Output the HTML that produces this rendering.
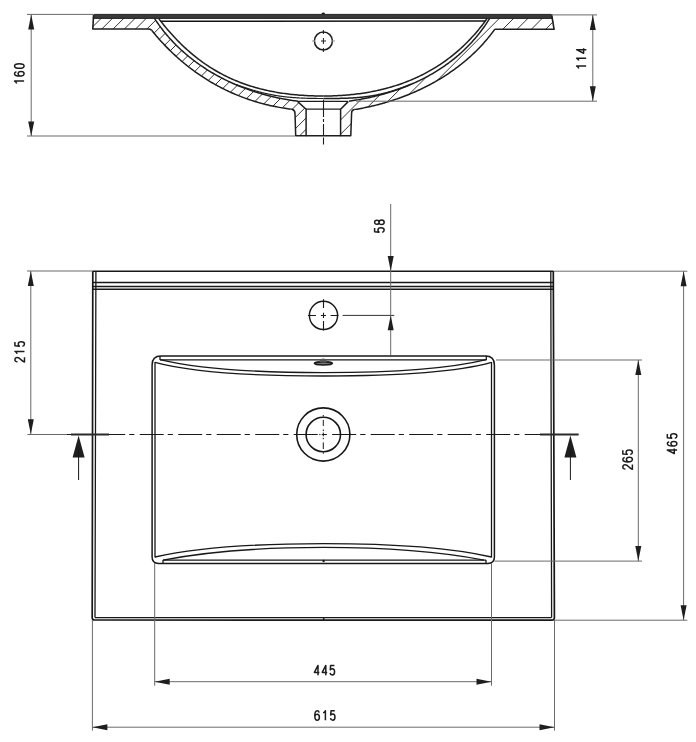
<!DOCTYPE html>
<html><head><meta charset="utf-8"><style>
html,body{margin:0;padding:0;background:#fff;width:696px;height:742px;overflow:hidden}
svg{display:block}
.g path{fill:none;stroke:#1c1c1c;stroke-width:1.5;stroke-linecap:butt;stroke-linejoin:round}
</style></head><body>
<svg width="696" height="742" viewBox="0 0 696 742">
<clipPath id="cl"><path d="M93.30,18.30 L154.50,18.30 L154.50,18.40 L155.30,19.62 L156.10,20.83 L156.92,22.04 L157.75,23.23 L158.58,24.42 L159.43,25.60 L160.29,26.76 L161.15,27.92 L162.03,29.07 L162.92,30.21 L163.81,31.35 L164.72,32.47 L165.63,33.58 L166.56,34.69 L167.49,35.78 L168.43,36.87 L169.38,37.95 L170.34,39.02 L171.31,40.08 L172.29,41.13 L173.28,42.17 L174.27,43.20 L175.28,44.23 L176.29,45.24 L177.31,46.25 L178.34,47.25 L179.38,48.23 L180.42,49.21 L181.48,50.18 L182.54,51.14 L183.61,52.10 L184.69,53.04 L185.77,53.97 L186.86,54.90 L187.96,55.82 L189.07,56.72 L190.18,57.62 L191.31,58.51 L192.43,59.39 L193.57,60.27 L194.71,61.13 L195.86,61.98 L197.02,62.83 L198.18,63.67 L199.35,64.49 L200.53,65.31 L201.71,66.12 L202.90,66.92 L204.10,67.71 L205.30,68.50 L206.50,69.27 L207.72,70.04 L208.94,70.79 L210.16,71.54 L211.39,72.28 L212.63,73.01 L213.87,73.73 L215.12,74.44 L216.37,75.14 L217.63,75.84 L218.89,76.52 L220.16,77.20 L221.43,77.87 L222.71,78.53 L224.00,79.18 L225.28,79.82 L226.58,80.45 L227.87,81.07 L229.17,81.69 L230.48,82.29 L231.79,82.89 L233.11,83.48 L234.42,84.06 L235.75,84.63 L237.07,85.19 L238.40,85.74 L239.74,86.29 L241.08,86.82 L242.42,87.35 L243.76,87.86 L245.11,88.37 L246.46,88.87 L247.82,89.36 L249.17,89.85 L250.54,90.32 L251.90,90.78 L253.27,91.24 L254.64,91.69 L256.01,92.13 L257.38,92.56 L258.76,92.98 L260.14,93.39 L261.52,93.79 L262.91,94.19 L264.29,94.57 L265.68,94.95 L267.07,95.32 L268.47,95.67 L269.86,96.03 L271.26,96.37 L272.66,96.70 L274.06,97.02 L275.46,97.34 L276.86,97.65 L278.26,97.94 L279.67,98.23 L281.07,98.51 L282.48,98.79 L283.89,99.05 L285.30,99.30 L286.71,99.55 L288.12,99.79 L289.53,100.01 L290.94,100.23 L292.35,100.44 L293.76,100.65 L295.18,100.84 L296.59,101.02 L298.00,101.20 L306.00,109.60 L306.00,135.70 L295.70,135.70 L295.00,113.00 L292.00,109.30 L292.00,109.30 L290.57,109.12 L289.15,108.94 L287.73,108.74 L286.32,108.54 L284.91,108.32 L283.50,108.10 L282.10,107.87 L280.70,107.63 L279.30,107.38 L277.91,107.13 L276.52,106.86 L275.13,106.59 L273.75,106.30 L272.37,106.01 L270.99,105.71 L269.62,105.40 L268.26,105.08 L266.89,104.75 L265.53,104.42 L264.18,104.07 L262.82,103.72 L261.48,103.36 L260.13,102.99 L258.79,102.61 L257.45,102.22 L256.12,101.82 L254.79,101.42 L253.47,101.01 L252.15,100.59 L250.83,100.16 L249.52,99.72 L248.21,99.27 L246.90,98.81 L245.60,98.35 L244.31,97.88 L243.01,97.40 L241.73,96.91 L240.44,96.41 L239.16,95.91 L237.88,95.39 L236.61,94.87 L235.34,94.34 L234.08,93.80 L232.82,93.26 L231.57,92.70 L230.32,92.14 L229.07,91.57 L227.83,90.99 L226.59,90.40 L225.35,89.81 L224.12,89.20 L222.90,88.59 L221.68,87.97 L220.46,87.34 L219.25,86.71 L218.04,86.06 L216.84,85.41 L215.64,84.75 L214.45,84.09 L213.26,83.41 L212.07,82.73 L210.89,82.04 L209.72,81.34 L208.54,80.63 L207.38,79.91 L206.21,79.19 L205.06,78.46 L203.90,77.72 L202.75,76.98 L201.61,76.22 L200.47,75.46 L199.34,74.69 L198.21,73.92 L197.08,73.13 L195.96,72.34 L194.85,71.54 L193.73,70.73 L192.63,69.92 L191.53,69.10 L190.43,68.27 L189.34,67.43 L188.25,66.58 L187.17,65.73 L186.09,64.87 L185.02,64.00 L183.95,63.13 L182.89,62.25 L181.83,61.36 L180.78,60.46 L179.73,59.56 L178.69,58.64 L177.65,57.72 L176.62,56.80 L175.59,55.86 L174.57,54.92 L173.55,53.97 L172.54,53.02 L171.53,52.06 L170.53,51.09 L169.54,50.11 L168.54,49.12 L167.56,48.13 L166.58,47.13 L165.60,46.13 L164.63,45.12 L163.67,44.10 L162.70,43.07 L161.75,42.03 L160.80,40.99 L159.86,39.95 L158.92,38.89 L157.98,37.83 L157.06,36.76 L156.13,35.68 L155.22,34.60 L154.30,33.51 L153.40,32.41 L152.50,31.31 L151.60,30.20 L149.50,29.00 L92.70,29.00Z"/></clipPath>
<path clip-path="url(#cl)" d="M108.2,0 L-51.8,160 M119.5,0 L-40.5,160 M130.8,0 L-29.2,160 M142.1,0 L-17.9,160 M153.4,0 L-6.6,160 M164.6,0 L4.6,160 M175.9,0 L15.9,160 M187.2,0 L27.2,160 M198.5,0 L38.5,160 M209.8,0 L49.8,160 M221.0,0 L61.0,160 M232.3,0 L72.3,160 M243.6,0 L83.6,160 M254.9,0 L94.9,160 M266.2,0 L106.2,160 M277.4,0 L117.4,160 M288.7,0 L128.7,160 M300.0,0 L140.0,160 M311.3,0 L151.3,160 M322.6,0 L162.6,160 M333.8,0 L173.8,160 M345.1,0 L185.1,160 M356.4,0 L196.4,160 M367.7,0 L207.7,160 M379.0,0 L219.0,160 M390.2,0 L230.2,160 M401.5,0 L241.5,160 M412.8,0 L252.8,160 M424.1,0 L264.1,160 M435.4,0 L275.4,160 M446.6,0 L286.6,160 M457.9,0 L297.9,160 M469.2,0 L309.2,160" stroke="#1e1e1e" stroke-width="0.9"/>
<clipPath id="cr"><path d="M553.00,18.30 L489.70,18.30 L489.70,18.40 L488.91,19.67 L488.11,20.92 L487.31,22.17 L486.49,23.40 L485.67,24.62 L484.83,25.83 L483.99,27.03 L483.13,28.22 L482.27,29.40 L481.40,30.57 L480.52,31.73 L479.64,32.88 L478.74,34.01 L477.83,35.14 L476.92,36.25 L476.00,37.36 L475.07,38.45 L474.13,39.54 L473.18,40.61 L472.22,41.67 L471.26,42.73 L470.29,43.77 L469.31,44.80 L468.32,45.82 L467.33,46.83 L466.32,47.84 L465.31,48.83 L464.30,49.81 L463.27,50.78 L462.24,51.74 L461.20,52.69 L460.15,53.63 L459.09,54.57 L458.03,55.49 L456.96,56.40 L455.88,57.30 L454.80,58.19 L453.71,59.07 L452.61,59.95 L451.51,60.81 L450.40,61.66 L449.28,62.51 L448.16,63.34 L447.03,64.16 L445.89,64.98 L444.75,65.78 L443.60,66.58 L442.44,67.37 L441.28,68.14 L440.11,68.91 L438.94,69.67 L437.76,70.42 L436.58,71.16 L435.38,71.89 L434.19,72.61 L432.99,73.32 L431.78,74.03 L430.56,74.72 L429.35,75.40 L428.12,76.08 L426.89,76.75 L425.66,77.40 L424.42,78.05 L423.17,78.69 L421.92,79.33 L420.67,79.95 L419.41,80.56 L418.14,81.17 L416.88,81.76 L415.60,82.35 L414.32,82.93 L413.04,83.50 L411.75,84.06 L410.46,84.61 L409.17,85.16 L407.87,85.69 L406.56,86.22 L405.25,86.74 L403.94,87.25 L402.63,87.75 L401.31,88.25 L399.98,88.73 L398.66,89.21 L397.32,89.68 L395.99,90.14 L394.65,90.60 L393.31,91.04 L391.97,91.48 L390.62,91.91 L389.27,92.33 L387.91,92.74 L386.55,93.14 L385.19,93.54 L383.83,93.93 L382.46,94.31 L381.09,94.69 L379.72,95.05 L378.35,95.41 L376.97,95.76 L375.59,96.10 L374.21,96.44 L372.83,96.77 L371.44,97.08 L370.05,97.40 L368.66,97.70 L367.27,98.00 L365.87,98.29 L364.47,98.57 L363.08,98.85 L361.67,99.11 L360.27,99.37 L358.87,99.63 L357.46,99.87 L356.06,100.11 L354.65,100.34 L353.24,100.57 L351.83,100.79 L350.41,101.00 L349.00,101.20 L340.70,109.60 L340.70,135.70 L350.80,135.70 L351.60,112.00 L354.20,109.60 L354.20,109.60 L355.58,109.38 L356.95,109.14 L358.32,108.90 L359.70,108.66 L361.07,108.40 L362.44,108.14 L363.81,107.87 L365.18,107.59 L366.55,107.31 L367.92,107.02 L369.29,106.72 L370.65,106.41 L372.02,106.10 L373.38,105.77 L374.74,105.44 L376.10,105.11 L377.46,104.76 L378.82,104.41 L380.17,104.05 L381.53,103.68 L382.88,103.30 L384.23,102.92 L385.57,102.53 L386.92,102.13 L388.26,101.73 L389.60,101.31 L390.94,100.89 L392.28,100.46 L393.61,100.03 L394.94,99.58 L396.27,99.13 L397.60,98.67 L398.92,98.21 L400.24,97.73 L401.56,97.25 L402.87,96.76 L404.19,96.26 L405.49,95.76 L406.80,95.25 L408.10,94.73 L409.40,94.20 L410.70,93.66 L411.99,93.12 L413.28,92.57 L414.56,92.01 L415.84,91.45 L417.12,90.87 L418.39,90.29 L419.67,89.70 L420.93,89.11 L422.19,88.50 L423.45,87.89 L424.71,87.27 L425.96,86.65 L427.20,86.01 L428.44,85.37 L429.68,84.72 L430.91,84.06 L432.14,83.39 L433.36,82.72 L434.58,82.04 L435.79,81.35 L437.00,80.66 L438.21,79.95 L439.41,79.24 L440.60,78.52 L441.79,77.79 L442.97,77.06 L444.15,76.32 L445.32,75.57 L446.49,74.81 L447.65,74.04 L448.81,73.27 L449.96,72.49 L451.11,71.70 L452.25,70.90 L453.38,70.10 L454.51,69.29 L455.63,68.47 L456.74,67.64 L457.85,66.80 L458.96,65.96 L460.05,65.11 L461.15,64.25 L462.23,63.39 L463.31,62.51 L464.38,61.63 L465.44,60.74 L466.50,59.84 L467.55,58.94 L468.60,58.03 L469.64,57.11 L470.67,56.18 L471.69,55.24 L472.71,54.30 L473.72,53.35 L474.72,52.39 L475.72,51.42 L476.70,50.44 L477.68,49.46 L478.66,48.47 L479.62,47.47 L480.58,46.46 L481.53,45.45 L482.47,44.43 L483.40,43.40 L484.33,42.36 L485.25,41.32 L486.16,40.26 L487.06,39.20 L487.95,38.13 L488.84,37.06 L489.72,35.97 L490.59,34.88 L491.45,33.78 L492.30,32.67 L493.14,31.56 L493.97,30.43 L494.80,29.30 L554.10,29.30Z"/></clipPath>
<path clip-path="url(#cr)" d="M431.9,0 L271.9,160 M446.2,0 L286.2,160 M460.5,0 L300.5,160 M474.8,0 L314.8,160 M489.1,0 L329.1,160 M503.4,0 L343.4,160 M517.7,0 L357.7,160 M532.0,0 L372.0,160 M546.3,0 L386.3,160 M560.6,0 L400.6,160 M574.9,0 L414.9,160 M589.2,0 L429.2,160 M603.5,0 L443.5,160 M617.8,0 L457.8,160 M632.1,0 L472.1,160 M646.4,0 L486.4,160 M660.7,0 L500.7,160 M675.0,0 L515.0,160 M689.3,0 L529.3,160 M703.6,0 L543.6,160 M717.9,0 L557.9,160" stroke="#1e1e1e" stroke-width="0.9"/>
<path d="M158.60,18.40 L159.69,19.84 L160.79,21.26 L161.89,22.66 L163.00,24.05 L164.11,25.42 L165.22,26.78 L166.34,28.12 L167.46,29.45 L168.58,30.76 L169.71,32.06 L170.84,33.34 L171.98,34.61 L173.12,35.86 L174.27,37.10 L175.42,38.32 L176.57,39.53 L177.73,40.72 L178.89,41.90 L180.05,43.07 L181.22,44.22 L182.40,45.35 L183.58,46.47 L184.76,47.58 L185.95,48.67 L187.14,49.75 L188.34,50.81 L189.54,51.86 L190.74,52.90 L191.95,53.92 L193.17,54.93 L194.39,55.92 L195.61,56.90 L196.84,57.87 L198.07,58.82 L199.31,59.76 L200.55,60.68 L201.80,61.60 L203.05,62.50 L204.31,63.38 L205.57,64.25 L206.84,65.11 L208.11,65.96 L209.39,66.79 L210.67,67.61 L211.96,68.41 L213.25,69.21 L214.55,69.99 L215.85,70.75 L217.16,71.51 L218.47,72.25 L219.79,72.98 L221.11,73.69 L222.44,74.40 L223.78,75.09 L225.12,75.77 L226.46,76.43 L227.81,77.09 L229.17,77.73 L230.53,78.36 L231.90,78.98 L233.27,79.58 L234.65,80.17 L236.03,80.76 L237.42,81.32 L238.82,81.88 L240.22,82.43 L241.62,82.96 L243.04,83.48 L244.45,83.99 L245.88,84.49 L247.31,84.98 L248.75,85.46 L250.19,85.92 L251.64,86.37 L253.09,86.82 L254.55,87.25 L256.02,87.67 L257.49,88.08 L258.97,88.47 L260.45,88.86 L261.94,89.24 L263.44,89.60 L264.94,89.95 L266.45,90.30 L267.97,90.63 L269.49,90.95 L271.02,91.26 L272.55,91.56 L274.09,91.85 L275.64,92.13 L277.20,92.40 L278.76,92.66 L280.33,92.91 L281.90,93.15 L283.48,93.38 L285.07,93.60 L286.66,93.81 L288.26,94.01 L289.87,94.20 L291.49,94.38 L293.11,94.55 L294.74,94.71 L296.37,94.86 L298.01,95.00 L299.66,95.13 L301.32,95.25 L302.98,95.36 L304.65,95.47 L306.33,95.56 L308.01,95.64 L309.71,95.72 L311.40,95.79 L313.11,95.84 L314.82,95.89 L316.54,95.93 L318.27,95.96 L320.01,95.98 L321.75,96.00 L323.50,96.00" fill="none" stroke="#1e1e1e" stroke-width="1.5" stroke-linejoin="round"/>
<path d="M487.20,18.40 L486.20,19.79 L485.20,21.16 L484.19,22.53 L483.17,23.87 L482.14,25.21 L481.11,26.53 L480.06,27.83 L479.02,29.12 L477.96,30.40 L476.89,31.67 L475.82,32.92 L474.74,34.15 L473.66,35.38 L472.56,36.59 L471.46,37.78 L470.36,38.97 L469.24,40.14 L468.12,41.29 L466.99,42.44 L465.85,43.57 L464.71,44.68 L463.56,45.79 L462.40,46.88 L461.24,47.95 L460.07,49.02 L458.89,50.07 L457.70,51.10 L456.51,52.13 L455.31,53.14 L454.11,54.14 L452.90,55.12 L451.68,56.10 L450.45,57.06 L449.22,58.00 L447.98,58.94 L446.74,59.86 L445.49,60.77 L444.23,61.67 L442.96,62.55 L441.69,63.42 L440.41,64.28 L439.13,65.13 L437.84,65.96 L436.54,66.78 L435.24,67.59 L433.93,68.39 L432.62,69.18 L431.29,69.95 L429.97,70.71 L428.63,71.46 L427.29,72.19 L425.94,72.92 L424.59,73.63 L423.23,74.33 L421.87,75.02 L420.50,75.69 L419.12,76.36 L417.74,77.01 L416.35,77.65 L414.96,78.28 L413.56,78.90 L412.15,79.51 L410.74,80.10 L409.33,80.68 L407.90,81.25 L406.48,81.81 L405.04,82.36 L403.60,82.90 L402.16,83.42 L400.71,83.94 L399.25,84.44 L397.79,84.93 L396.32,85.41 L394.85,85.88 L393.37,86.33 L391.89,86.78 L390.40,87.22 L388.91,87.64 L387.41,88.05 L385.90,88.46 L384.40,88.85 L382.88,89.23 L381.36,89.60 L379.84,89.96 L378.31,90.30 L376.77,90.64 L375.23,90.97 L373.69,91.28 L372.14,91.59 L370.58,91.88 L369.02,92.17 L367.46,92.44 L365.89,92.70 L364.32,92.96 L362.74,93.20 L361.15,93.43 L359.57,93.65 L357.97,93.86 L356.38,94.07 L354.77,94.26 L353.17,94.44 L351.56,94.61 L349.94,94.77 L348.32,94.92 L346.69,95.06 L345.07,95.19 L343.43,95.31 L341.79,95.42 L340.15,95.52 L338.51,95.61 L336.86,95.70 L335.20,95.77 L333.54,95.83 L331.88,95.88 L330.21,95.92 L328.54,95.96 L326.86,95.98 L325.18,96.00 L323.50,96.00" fill="none" stroke="#1e1e1e" stroke-width="1.5" stroke-linejoin="round"/>
<path d="M154.50,18.40 L155.30,19.62 L156.10,20.83 L156.92,22.04 L157.75,23.23 L158.58,24.42 L159.43,25.60 L160.29,26.76 L161.15,27.92 L162.03,29.07 L162.92,30.21 L163.81,31.35 L164.72,32.47 L165.63,33.58 L166.56,34.69 L167.49,35.78 L168.43,36.87 L169.38,37.95 L170.34,39.02 L171.31,40.08 L172.29,41.13 L173.28,42.17 L174.27,43.20 L175.28,44.23 L176.29,45.24 L177.31,46.25 L178.34,47.25 L179.38,48.23 L180.42,49.21 L181.48,50.18 L182.54,51.14 L183.61,52.10 L184.69,53.04 L185.77,53.97 L186.86,54.90 L187.96,55.82 L189.07,56.72 L190.18,57.62 L191.31,58.51 L192.43,59.39 L193.57,60.27 L194.71,61.13 L195.86,61.98 L197.02,62.83 L198.18,63.67 L199.35,64.49 L200.53,65.31 L201.71,66.12 L202.90,66.92 L204.10,67.71 L205.30,68.50 L206.50,69.27 L207.72,70.04 L208.94,70.79 L210.16,71.54 L211.39,72.28 L212.63,73.01 L213.87,73.73 L215.12,74.44 L216.37,75.14 L217.63,75.84 L218.89,76.52 L220.16,77.20 L221.43,77.87 L222.71,78.53 L224.00,79.18 L225.28,79.82 L226.58,80.45 L227.87,81.07 L229.17,81.69 L230.48,82.29 L231.79,82.89 L233.11,83.48 L234.42,84.06 L235.75,84.63 L237.07,85.19 L238.40,85.74 L239.74,86.29 L241.08,86.82 L242.42,87.35 L243.76,87.86 L245.11,88.37 L246.46,88.87 L247.82,89.36 L249.17,89.85 L250.54,90.32 L251.90,90.78 L253.27,91.24 L254.64,91.69 L256.01,92.13 L257.38,92.56 L258.76,92.98 L260.14,93.39 L261.52,93.79 L262.91,94.19 L264.29,94.57 L265.68,94.95 L267.07,95.32 L268.47,95.67 L269.86,96.03 L271.26,96.37 L272.66,96.70 L274.06,97.02 L275.46,97.34 L276.86,97.65 L278.26,97.94 L279.67,98.23 L281.07,98.51 L282.48,98.79 L283.89,99.05 L285.30,99.30 L286.71,99.55 L288.12,99.79 L289.53,100.01 L290.94,100.23 L292.35,100.44 L293.76,100.65 L295.18,100.84 L296.59,101.02 L298.00,101.20" fill="none" stroke="#1e1e1e" stroke-width="1.5" stroke-linejoin="round"/>
<path d="M236.00,84.60 L236.83,84.90 L237.66,85.19 L238.49,85.48 L239.30,85.76 L240.12,86.04 L240.92,86.32 L241.73,86.59 L242.52,86.86 L243.31,87.13 L244.10,87.39 L244.88,87.64 L245.66,87.90 L246.43,88.14 L247.20,88.39 L247.96,88.63 L248.72,88.87 L249.48,89.10 L250.23,89.33 L250.98,89.56 L251.72,89.78 L252.46,90.00 L253.20,90.22 L253.93,90.43 L254.66,90.64 L255.38,90.85 L256.11,91.05 L256.83,91.25 L257.54,91.44 L258.25,91.63 L258.96,91.82 L259.67,92.01 L260.38,92.19 L261.08,92.37 L261.78,92.54 L262.48,92.71 L263.17,92.88 L263.87,93.05 L264.56,93.21 L265.25,93.37 L265.94,93.53 L266.62,93.68 L267.31,93.83 L267.99,93.98 L268.67,94.12 L269.35,94.26 L270.03,94.40 L270.71,94.54 L271.39,94.67 L272.06,94.80 L272.74,94.92 L273.41,95.05 L274.09,95.17 L274.76,95.29 L275.44,95.41 L276.11,95.52 L276.78,95.63 L277.46,95.74 L278.13,95.84 L278.80,95.95 L279.48,96.05 L280.15,96.14 L280.83,96.24 L281.50,96.33 L282.18,96.42 L282.85,96.51 L283.53,96.60 L284.21,96.68 L284.89,96.76 L285.57,96.84 L286.25,96.92 L286.94,96.99 L287.62,97.07 L288.31,97.14 L289.00,97.20 L289.69,97.27 L290.38,97.33 L291.08,97.40 L291.78,97.45 L292.48,97.51 L293.18,97.57 L293.88,97.62 L294.59,97.67 L295.30,97.72 L296.01,97.77 L296.72,97.82 L297.44,97.86 L298.16,97.91 L298.89,97.95 L299.62,97.99 L300.35,98.02 L301.08,98.06 L301.82,98.09 L302.56,98.13 L303.31,98.16 L304.06,98.19 L304.81,98.22 L305.57,98.24 L306.33,98.27 L307.10,98.29 L307.87,98.31 L308.64,98.33 L309.42,98.35 L310.21,98.37 L311.00,98.39 L311.79,98.40 L312.59,98.42 L313.40,98.43 L314.21,98.44 L315.02,98.45 L315.84,98.46 L316.67,98.47 L317.50,98.48 L318.34,98.48 L319.19,98.49 L320.04,98.49 L320.89,98.50 L321.76,98.50 L322.62,98.50 L323.50,98.50" fill="none" stroke="#1e1e1e" stroke-width="1.2" stroke-linejoin="round"/>
<path d="M151.60,30.20 L152.50,31.31 L153.40,32.41 L154.30,33.51 L155.22,34.60 L156.13,35.68 L157.06,36.76 L157.98,37.83 L158.92,38.89 L159.86,39.95 L160.80,40.99 L161.75,42.03 L162.70,43.07 L163.67,44.10 L164.63,45.12 L165.60,46.13 L166.58,47.13 L167.56,48.13 L168.54,49.12 L169.54,50.11 L170.53,51.09 L171.53,52.06 L172.54,53.02 L173.55,53.97 L174.57,54.92 L175.59,55.86 L176.62,56.80 L177.65,57.72 L178.69,58.64 L179.73,59.56 L180.78,60.46 L181.83,61.36 L182.89,62.25 L183.95,63.13 L185.02,64.00 L186.09,64.87 L187.17,65.73 L188.25,66.58 L189.34,67.43 L190.43,68.27 L191.53,69.10 L192.63,69.92 L193.73,70.73 L194.85,71.54 L195.96,72.34 L197.08,73.13 L198.21,73.92 L199.34,74.69 L200.47,75.46 L201.61,76.22 L202.75,76.98 L203.90,77.72 L205.06,78.46 L206.21,79.19 L207.38,79.91 L208.54,80.63 L209.72,81.34 L210.89,82.04 L212.07,82.73 L213.26,83.41 L214.45,84.09 L215.64,84.75 L216.84,85.41 L218.04,86.06 L219.25,86.71 L220.46,87.34 L221.68,87.97 L222.90,88.59 L224.12,89.20 L225.35,89.81 L226.59,90.40 L227.83,90.99 L229.07,91.57 L230.32,92.14 L231.57,92.70 L232.82,93.26 L234.08,93.80 L235.34,94.34 L236.61,94.87 L237.88,95.39 L239.16,95.91 L240.44,96.41 L241.73,96.91 L243.01,97.40 L244.31,97.88 L245.60,98.35 L246.90,98.81 L248.21,99.27 L249.52,99.72 L250.83,100.16 L252.15,100.59 L253.47,101.01 L254.79,101.42 L256.12,101.82 L257.45,102.22 L258.79,102.61 L260.13,102.99 L261.48,103.36 L262.82,103.72 L264.18,104.07 L265.53,104.42 L266.89,104.75 L268.26,105.08 L269.62,105.40 L270.99,105.71 L272.37,106.01 L273.75,106.30 L275.13,106.59 L276.52,106.86 L277.91,107.13 L279.30,107.38 L280.70,107.63 L282.10,107.87 L283.50,108.10 L284.91,108.32 L286.32,108.54 L287.73,108.74 L289.15,108.94 L290.57,109.12 L292.00,109.30" fill="none" stroke="#1e1e1e" stroke-width="1.5" stroke-linejoin="round"/>
<path d="M411.00,84.20 L410.18,84.54 L409.37,84.87 L408.56,85.20 L407.76,85.53 L406.96,85.85 L406.16,86.16 L405.37,86.47 L404.58,86.77 L403.80,87.07 L403.03,87.36 L402.25,87.65 L401.48,87.93 L400.72,88.21 L399.95,88.48 L399.20,88.75 L398.44,89.01 L397.69,89.27 L396.94,89.52 L396.20,89.77 L395.46,90.02 L394.72,90.26 L393.99,90.49 L393.26,90.72 L392.53,90.95 L391.80,91.17 L391.08,91.39 L390.36,91.60 L389.64,91.81 L388.93,92.01 L388.21,92.21 L387.50,92.41 L386.79,92.60 L386.09,92.79 L385.38,92.98 L384.68,93.16 L383.98,93.33 L383.28,93.50 L382.59,93.67 L381.89,93.84 L381.20,94.00 L380.50,94.16 L379.81,94.31 L379.12,94.46 L378.43,94.60 L377.75,94.75 L377.06,94.89 L376.37,95.02 L375.69,95.15 L375.00,95.28 L374.32,95.41 L373.64,95.53 L372.95,95.65 L372.27,95.77 L371.59,95.88 L370.91,95.99 L370.23,96.09 L369.54,96.20 L368.86,96.30 L368.18,96.40 L367.50,96.49 L366.81,96.58 L366.13,96.67 L365.45,96.76 L364.76,96.84 L364.08,96.92 L363.39,97.00 L362.70,97.08 L362.01,97.15 L361.32,97.22 L360.63,97.29 L359.94,97.35 L359.25,97.42 L358.55,97.48 L357.86,97.54 L357.16,97.59 L356.46,97.65 L355.76,97.70 L355.06,97.75 L354.35,97.80 L353.65,97.84 L352.94,97.89 L352.22,97.93 L351.51,97.97 L350.79,98.01 L350.08,98.04 L349.35,98.08 L348.63,98.11 L347.90,98.14 L347.17,98.17 L346.44,98.20 L345.70,98.22 L344.97,98.25 L344.22,98.27 L343.48,98.29 L342.73,98.31 L341.98,98.33 L341.22,98.35 L340.46,98.37 L339.70,98.38 L338.93,98.40 L338.16,98.41 L337.38,98.42 L336.60,98.43 L335.82,98.44 L335.03,98.45 L334.24,98.46 L333.44,98.47 L332.64,98.47 L331.84,98.48 L331.03,98.48 L330.21,98.49 L329.39,98.49 L328.56,98.49 L327.73,98.50 L326.90,98.50 L326.06,98.50 L325.21,98.50 L324.36,98.50 L323.50,98.50" fill="none" stroke="#1e1e1e" stroke-width="1.5" stroke-linejoin="round"/>
<path d="M489.70,18.40 L488.91,19.67 L488.11,20.92 L487.31,22.17 L486.49,23.40 L485.67,24.62 L484.83,25.83 L483.99,27.03 L483.13,28.22 L482.27,29.40 L481.40,30.57 L480.52,31.73 L479.64,32.88 L478.74,34.01 L477.83,35.14 L476.92,36.25 L476.00,37.36 L475.07,38.45 L474.13,39.54 L473.18,40.61 L472.22,41.67 L471.26,42.73 L470.29,43.77 L469.31,44.80 L468.32,45.82 L467.33,46.83 L466.32,47.84 L465.31,48.83 L464.30,49.81 L463.27,50.78 L462.24,51.74 L461.20,52.69 L460.15,53.63 L459.09,54.57 L458.03,55.49 L456.96,56.40 L455.88,57.30 L454.80,58.19 L453.71,59.07 L452.61,59.95 L451.51,60.81 L450.40,61.66 L449.28,62.51 L448.16,63.34 L447.03,64.16 L445.89,64.98 L444.75,65.78 L443.60,66.58 L442.44,67.37 L441.28,68.14 L440.11,68.91 L438.94,69.67 L437.76,70.42 L436.58,71.16 L435.38,71.89 L434.19,72.61 L432.99,73.32 L431.78,74.03 L430.56,74.72 L429.35,75.40 L428.12,76.08 L426.89,76.75 L425.66,77.40 L424.42,78.05 L423.17,78.69 L421.92,79.33 L420.67,79.95 L419.41,80.56 L418.14,81.17 L416.88,81.76 L415.60,82.35 L414.32,82.93 L413.04,83.50 L411.75,84.06 L410.46,84.61 L409.17,85.16 L407.87,85.69 L406.56,86.22 L405.25,86.74 L403.94,87.25 L402.63,87.75 L401.31,88.25 L399.98,88.73 L398.66,89.21 L397.32,89.68 L395.99,90.14 L394.65,90.60 L393.31,91.04 L391.97,91.48 L390.62,91.91 L389.27,92.33 L387.91,92.74 L386.55,93.14 L385.19,93.54 L383.83,93.93 L382.46,94.31 L381.09,94.69 L379.72,95.05 L378.35,95.41 L376.97,95.76 L375.59,96.10 L374.21,96.44 L372.83,96.77 L371.44,97.08 L370.05,97.40 L368.66,97.70 L367.27,98.00 L365.87,98.29 L364.47,98.57 L363.08,98.85 L361.67,99.11 L360.27,99.37 L358.87,99.63 L357.46,99.87 L356.06,100.11 L354.65,100.34 L353.24,100.57 L351.83,100.79 L350.41,101.00 L349.00,101.20" fill="none" stroke="#1e1e1e" stroke-width="1.5" stroke-linejoin="round"/>
<path d="M494.80,29.30 L493.97,30.43 L493.14,31.56 L492.30,32.67 L491.45,33.78 L490.59,34.88 L489.72,35.97 L488.84,37.06 L487.95,38.13 L487.06,39.20 L486.16,40.26 L485.25,41.32 L484.33,42.36 L483.40,43.40 L482.47,44.43 L481.53,45.45 L480.58,46.46 L479.62,47.47 L478.66,48.47 L477.68,49.46 L476.70,50.44 L475.72,51.42 L474.72,52.39 L473.72,53.35 L472.71,54.30 L471.69,55.24 L470.67,56.18 L469.64,57.11 L468.60,58.03 L467.55,58.94 L466.50,59.84 L465.44,60.74 L464.38,61.63 L463.31,62.51 L462.23,63.39 L461.15,64.25 L460.05,65.11 L458.96,65.96 L457.85,66.80 L456.74,67.64 L455.63,68.47 L454.51,69.29 L453.38,70.10 L452.25,70.90 L451.11,71.70 L449.96,72.49 L448.81,73.27 L447.65,74.04 L446.49,74.81 L445.32,75.57 L444.15,76.32 L442.97,77.06 L441.79,77.79 L440.60,78.52 L439.41,79.24 L438.21,79.95 L437.00,80.66 L435.79,81.35 L434.58,82.04 L433.36,82.72 L432.14,83.39 L430.91,84.06 L429.68,84.72 L428.44,85.37 L427.20,86.01 L425.96,86.65 L424.71,87.27 L423.45,87.89 L422.19,88.50 L420.93,89.11 L419.67,89.70 L418.39,90.29 L417.12,90.87 L415.84,91.45 L414.56,92.01 L413.28,92.57 L411.99,93.12 L410.70,93.66 L409.40,94.20 L408.10,94.73 L406.80,95.25 L405.49,95.76 L404.19,96.26 L402.87,96.76 L401.56,97.25 L400.24,97.73 L398.92,98.21 L397.60,98.67 L396.27,99.13 L394.94,99.58 L393.61,100.03 L392.28,100.46 L390.94,100.89 L389.60,101.31 L388.26,101.73 L386.92,102.13 L385.57,102.53 L384.23,102.92 L382.88,103.30 L381.53,103.68 L380.17,104.05 L378.82,104.41 L377.46,104.76 L376.10,105.11 L374.74,105.44 L373.38,105.77 L372.02,106.10 L370.65,106.41 L369.29,106.72 L367.92,107.02 L366.55,107.31 L365.18,107.59 L363.81,107.87 L362.44,108.14 L361.07,108.40 L359.70,108.66 L358.32,108.90 L356.95,109.14 L355.58,109.38 L354.20,109.60" fill="none" stroke="#1e1e1e" stroke-width="1.5" stroke-linejoin="round"/>
<path d="M94.6,14.4 L551.2,14.4 L552.3,18.4 L93.3,18.4 L93.6,15.2 Z" fill="#3a3a3a" stroke="#141414" stroke-width="0.9" stroke-linejoin="round"/>
<line x1="161" y1="21.25" x2="485.5" y2="21.0" stroke="#141414" stroke-width="1.5"/>
<path d="M93.6,14.5 L92.8,29 L147.8,29 Q150.3,29 151.6,30.2" fill="none" stroke="#1e1e1e" stroke-width="1.6" stroke-linejoin="round"/>
<path d="M551.6,14.5 L554.1,29.3 L494.8,29.3" fill="none" stroke="#1e1e1e" stroke-width="1.6" stroke-linejoin="round"/>
<path d="M292,109.3 Q295,110 295,113.5 L295.7,135.7 L306.1,135.7 L306.1,109.2 L297.7,101.6" fill="none" stroke="#1e1e1e" stroke-width="1.5" stroke-linejoin="round"/>
<path d="M354.2,109.6 Q351.6,110.2 351.6,113 L350.8,135.7 L340.6,135.7 L340.6,109.2 L348.2,101.6" fill="none" stroke="#1e1e1e" stroke-width="1.5" stroke-linejoin="round"/>
<line x1="306" y1="109.2" x2="340.7" y2="109.2" stroke="#1e1e1e" stroke-width="1.3"/>
<line x1="297.7" y1="101.4" x2="348.2" y2="101.4" stroke="#1e1e1e" stroke-width="1.3"/>
<path d="M323.5,99.7 V117 M323.5,119 V122 M323.5,124 V135 M323.5,137.5 V144.5" stroke="#1e1e1e" stroke-width="1.1"/>
<line x1="306" y1="135.7" x2="340.7" y2="135.7" stroke="#1e1e1e" stroke-width="1.5"/>
<circle cx="323.4" cy="41" r="9" fill="none" stroke="#1e1e1e" stroke-width="1.5"/>
<path d="M323.4,30 V34 M323.4,48 V52 M323.4,38 V44 M321,41 H326" stroke="#1e1e1e" stroke-width="1"/>
<path d="M312,41 H315 M332,41 H335" stroke="#999" stroke-width="1"/>
<ellipse cx="323.3" cy="13.6" rx="1.6" ry="1.2" fill="#1e1e1e"/>
<line x1="27" y1="14.4" x2="93" y2="14.4" stroke="#6a6a6a" stroke-width="1"/>
<line x1="27" y1="136" x2="295" y2="136" stroke="#6a6a6a" stroke-width="1"/>
<line x1="31.2" y1="14.4" x2="31.2" y2="136" stroke="#6a6a6a" stroke-width="1"/>
<path d="M31.2,14.4 L28.2,29.4 L34.2,29.4 Z" fill="#1e1e1e"/>
<path d="M31.2,136 L28.2,121.5 L34.2,121.5 Z" fill="#1e1e1e"/>
<line x1="551.5" y1="14.9" x2="597" y2="14.9" stroke="#6a6a6a" stroke-width="1"/>
<line x1="356" y1="101.2" x2="597" y2="101.2" stroke="#6a6a6a" stroke-width="1"/>
<line x1="592.8" y1="14.9" x2="592.8" y2="101.2" stroke="#6a6a6a" stroke-width="1"/>
<path d="M592.8,14.9 L589.8,29.9 L595.8,29.9 Z" fill="#1e1e1e"/>
<path d="M592.8,101.2 L589.8,86.2 L595.8,86.2 Z" fill="#1e1e1e"/>
<path d="M92.8,271.3 L553.4,271.3" stroke="#181818" stroke-width="1.5"/>
<path d="M92.8,271 L92.2,617.5 Q92.2,620 94.5,620 L551.8,620.2 Q554.4,620.2 554.4,617.5 L553.3,271" fill="none" stroke="#181818" stroke-width="1.7"/>
<path d="M95.9,271 L95.0,617.6 M550.8,271 L551.6,617.6 M95.0,617.6 L551.6,617.6" fill="none" stroke="#181818" stroke-width="1.3"/>
<line x1="92.8" y1="282.5" x2="553.3" y2="282.5" stroke="#181818" stroke-width="1.4"/>
<line x1="92.8" y1="286.5" x2="553.3" y2="286.5" stroke="#181818" stroke-width="1.4"/>
<line x1="92.8" y1="289.2" x2="553.3" y2="289.2" stroke="#181818" stroke-width="1.4"/>
<path d="M152.1,365 Q152.1,356.1 161,356.1 L485.5,356.1 Q494.4,356.1 494.4,365 L494.4,557 Q494.4,563.4 488,563.4 L158.5,563.4 Q152.1,563.4 152.1,557 Z" fill="none" stroke="#181818" stroke-width="1.5"/>
<path d="M155,362 L155,557.5 M491.5,362 L491.5,557.5 M160,359.8 L486.3,359.8 M160,356 V360 M486.3,356 V360 M163,560.1 L486,560.1 M163,560.1 V563 M486,560.1 V563" fill="none" stroke="#181818" stroke-width="1.3"/>
<path d="M160,359.6 C195,368 250,372.6 323.5,372.6 C397,372.6 452,368 486.3,359.6" fill="none" stroke="#181818" stroke-width="1.4"/>
<path d="M155,362.4 C190,372 250,376 323.5,376 C397,376 457,372 491.5,362.4" fill="none" stroke="#181818" stroke-width="1.4"/>
<path d="M155,557 C190,549 250,543.6 323.5,543.6 C397,543.6 457,549 491.5,557" fill="none" stroke="#181818" stroke-width="1.4"/>
<path d="M163,560.1 C200,553 250,547.4 323.5,547.4 C397,547.4 447,553 484,560.1" fill="none" stroke="#181818" stroke-width="1.4"/>
<ellipse cx="323.4" cy="363.3" rx="9.0" ry="1.7" fill="#777" stroke="#181818" stroke-width="1.6"/>
<path d="M319.3,362 Q320.5,358.6 323.3,358.4 Q326.1,358.6 327.3,362 Z" fill="#555"/>
<circle cx="323.6" cy="561" r="1.2" fill="#181818"/>
<circle cx="323.7" cy="619" r="1.0" fill="#181818"/>
<circle cx="323.5" cy="315.4" r="14.1" fill="none" stroke="#181818" stroke-width="1.45"/>
<path d="M323.5,299.3 V307.9 M323.5,312.8 V318 M323.5,321 V330.6 M307.9,315.5 H315.9 M320.9,315.5 H326 M330.6,315.5 H338.5" stroke="#181818" stroke-width="1.1"/>
<line x1="342.6" y1="315.4" x2="394.3" y2="315.4" stroke="#333" stroke-width="1"/>
<line x1="390.7" y1="204" x2="390.7" y2="355" stroke="#6a6a6a" stroke-width="1"/>
<path d="M390.7,271 L387.7,256 L393.7,256 Z" fill="#1e1e1e"/>
<path d="M390.7,315.3 L387.7,330.3 L393.7,330.3 Z" fill="#1e1e1e"/>
<circle cx="323.3" cy="434.5" r="26.6" fill="none" stroke="#181818" stroke-width="1.6"/>
<circle cx="323.3" cy="434.5" r="17.2" fill="none" stroke="#181818" stroke-width="1.6"/>
<path d="M323.3,415 V416.5 M323.3,419.9 V426 M323.3,429.5 V431.1 M323.3,432.6 V436.3 M323.3,437.8 V439.2 M323.3,442.4 V449 M323.3,452.3 V453.8 M319.2,434.6 H320.5" stroke="#181818" stroke-width="1"/>
<line x1="60" y1="434.5" x2="578.5" y2="434.5" stroke="#181818" stroke-width="1.1" stroke-dasharray="24,4,5.2,5.3" stroke-dashoffset="-2.7"/>
<line x1="71" y1="434.5" x2="109" y2="434.5" stroke="#2a2a2a" stroke-width="1.9"/>
<line x1="540" y1="434.5" x2="578.5" y2="434.5" stroke="#2a2a2a" stroke-width="1.9"/>
<path d="M78.6,435.5 L72.6,457.5 L84.6,457.5 Z" fill="#1e1e1e"/>
<line x1="78.6" y1="450" x2="78.6" y2="480" stroke="#181818" stroke-width="1"/>
<path d="M570.4,435.5 L564.4,457.5 L576.4,457.5 Z" fill="#1e1e1e"/>
<line x1="570.4" y1="450" x2="570.4" y2="480" stroke="#181818" stroke-width="1"/>
<line x1="27" y1="271" x2="92.8" y2="271" stroke="#6a6a6a" stroke-width="1"/>
<line x1="27.4" y1="434.5" x2="67" y2="434.5" stroke="#6a6a6a" stroke-width="1"/>
<line x1="30.8" y1="271" x2="30.8" y2="434.5" stroke="#6a6a6a" stroke-width="1"/>
<path d="M30.8,271 L27.8,286 L33.8,286 Z" fill="#1e1e1e"/>
<path d="M30.8,434.3 L27.8,419.3 L33.8,419.3 Z" fill="#1e1e1e"/>
<line x1="554" y1="271.2" x2="687.3" y2="271.2" stroke="#6a6a6a" stroke-width="1"/>
<line x1="554.5" y1="620.2" x2="687.3" y2="620.2" stroke="#6a6a6a" stroke-width="1"/>
<line x1="683.6" y1="271.2" x2="683.6" y2="620.2" stroke="#6a6a6a" stroke-width="1"/>
<path d="M683.6,271.2 L680.6,286.2 L686.6,286.2 Z" fill="#1e1e1e"/>
<path d="M683.6,620.2 L680.6,605.2 L686.6,605.2 Z" fill="#1e1e1e"/>
<line x1="496" y1="360" x2="642" y2="360" stroke="#6a6a6a" stroke-width="1"/>
<line x1="494.4" y1="561.1" x2="642" y2="561.1" stroke="#6a6a6a" stroke-width="1"/>
<line x1="638.3" y1="360" x2="638.3" y2="561.1" stroke="#6a6a6a" stroke-width="1"/>
<path d="M638.3,360 L635.3,375 L641.3,375 Z" fill="#1e1e1e"/>
<path d="M638.3,561.1 L635.3,546.1 L641.3,546.1 Z" fill="#1e1e1e"/>
<line x1="154.7" y1="563" x2="154.7" y2="685.7" stroke="#6a6a6a" stroke-width="1"/>
<line x1="491.5" y1="563" x2="491.5" y2="685.7" stroke="#6a6a6a" stroke-width="1"/>
<line x1="154.7" y1="681.7" x2="491.5" y2="681.7" stroke="#6a6a6a" stroke-width="1"/>
<path d="M154.7,681.7 L169.7,678.7 L169.7,684.7 Z" fill="#1e1e1e"/>
<path d="M491.5,681.7 L476.5,678.7 L476.5,684.7 Z" fill="#1e1e1e"/>
<line x1="92.4" y1="620" x2="92.4" y2="730.6" stroke="#6a6a6a" stroke-width="1"/>
<line x1="554.5" y1="620" x2="554.5" y2="730.6" stroke="#6a6a6a" stroke-width="1"/>
<line x1="92.4" y1="727.2" x2="554.5" y2="727.2" stroke="#6a6a6a" stroke-width="1"/>
<path d="M92.4,727.2 L107.4,724.2 L107.4,730.2 Z" fill="#1e1e1e"/>
<path d="M554.5,727.2 L539.5,724.2 L539.5,730.2 Z" fill="#1e1e1e"/>
<g transform="translate(13.8,84.6) rotate(-90)" class="g"><path transform="translate(0.00,0)" d="M1.2,2.9 C2.4,2.5 3.2,1.7 3.5,0.72 L3.5,10.28"/><path transform="translate(7.80,0)" d="M5.05,2.6 C4.8,1.4 4.1,0.72 3.1,0.72 C1.5,0.72 0.72,2.6 0.72,5.7 C0.72,8.8 1.6,10.28 3.05,10.28 C4.45,10.28 5.28,9.1 5.28,7.25 C5.28,5.4 4.45,4.3 3.1,4.3 C1.9,4.3 1.05,5.1 0.75,6.3"/><path transform="translate(15.60,0)" d="M3,0.72 C1.5,0.72 0.72,2.4 0.72,5.5 C0.72,8.6 1.5,10.28 3,10.28 C4.5,10.28 5.28,8.6 5.28,5.5 C5.28,2.4 4.5,0.72 3,0.72 Z"/></g>
<g transform="translate(575.9,69.6) rotate(-90)" class="g"><path transform="translate(0.00,0)" d="M1.2,2.9 C2.4,2.5 3.2,1.7 3.5,0.72 L3.5,10.28"/><path transform="translate(7.80,0)" d="M1.2,2.9 C2.4,2.5 3.2,1.7 3.5,0.72 L3.5,10.28"/><path transform="translate(15.60,0)" d="M4.3,10.5 L4.3,0.72 L0.72,7.7 L5.7,7.7"/></g>
<g transform="translate(373.9,233.1) rotate(-90)" class="g"><path transform="translate(0.00,0)" d="M5.1,0.72 L1.35,0.72 L0.95,5.1 C1.5,4.4 2.2,4.05 3.05,4.05 C4.4,4.05 5.28,5.2 5.28,7.1 C5.28,9.1 4.4,10.28 3,10.28 C1.75,10.28 0.95,9.5 0.72,8.2"/><path transform="translate(7.80,0)" d="M3,5.15 C1.75,5.15 0.95,4.3 0.95,2.95 C0.95,1.55 1.8,0.72 3,0.72 C4.2,0.72 5.05,1.55 5.05,2.95 C5.05,4.3 4.25,5.15 3,5.15 C1.6,5.15 0.72,6.1 0.72,7.7 C0.72,9.3 1.65,10.28 3,10.28 C4.35,10.28 5.28,9.3 5.28,7.7 C5.28,6.1 4.4,5.15 3,5.15 Z"/></g>
<g transform="translate(14.2,362.7) rotate(-90)" class="g"><path transform="translate(0.00,0)" d="M0.85,3.3 C0.85,1.6 1.7,0.72 3,0.72 C4.3,0.72 5.15,1.6 5.15,3.1 C5.15,4.5 4.4,5.4 3.2,6.6 C1.9,7.9 0.9,9 0.72,10.28 L5.35,10.28"/><path transform="translate(7.80,0)" d="M1.2,2.9 C2.4,2.5 3.2,1.7 3.5,0.72 L3.5,10.28"/><path transform="translate(15.60,0)" d="M5.1,0.72 L1.35,0.72 L0.95,5.1 C1.5,4.4 2.2,4.05 3.05,4.05 C4.4,4.05 5.28,5.2 5.28,7.1 C5.28,9.1 4.4,10.28 3,10.28 C1.75,10.28 0.95,9.5 0.72,8.2"/></g>
<g transform="translate(622.1,469.9) rotate(-90)" class="g"><path transform="translate(0.00,0)" d="M0.85,3.3 C0.85,1.6 1.7,0.72 3,0.72 C4.3,0.72 5.15,1.6 5.15,3.1 C5.15,4.5 4.4,5.4 3.2,6.6 C1.9,7.9 0.9,9 0.72,10.28 L5.35,10.28"/><path transform="translate(7.30,0)" d="M5.05,2.6 C4.8,1.4 4.1,0.72 3.1,0.72 C1.5,0.72 0.72,2.6 0.72,5.7 C0.72,8.8 1.6,10.28 3.05,10.28 C4.45,10.28 5.28,9.1 5.28,7.25 C5.28,5.4 4.45,4.3 3.1,4.3 C1.9,4.3 1.05,5.1 0.75,6.3"/><path transform="translate(14.60,0)" d="M5.1,0.72 L1.35,0.72 L0.95,5.1 C1.5,4.4 2.2,4.05 3.05,4.05 C4.4,4.05 5.28,5.2 5.28,7.1 C5.28,9.1 4.4,10.28 3,10.28 C1.75,10.28 0.95,9.5 0.72,8.2"/></g>
<g transform="translate(666.6,454.3) rotate(-90)" class="g"><path transform="translate(0.00,0)" d="M4.3,10.5 L4.3,0.72 L0.72,7.7 L5.7,7.7"/><path transform="translate(7.60,0)" d="M5.05,2.6 C4.8,1.4 4.1,0.72 3.1,0.72 C1.5,0.72 0.72,2.6 0.72,5.7 C0.72,8.8 1.6,10.28 3.05,10.28 C4.45,10.28 5.28,9.1 5.28,7.25 C5.28,5.4 4.45,4.3 3.1,4.3 C1.9,4.3 1.05,5.1 0.75,6.3"/><path transform="translate(15.20,0)" d="M5.1,0.72 L1.35,0.72 L0.95,5.1 C1.5,4.4 2.2,4.05 3.05,4.05 C4.4,4.05 5.28,5.2 5.28,7.1 C5.28,9.1 4.4,10.28 3,10.28 C1.75,10.28 0.95,9.5 0.72,8.2"/></g>
<g transform="translate(313.7,664.7)" class="g"><path transform="translate(0.00,0)" d="M4.3,10.5 L4.3,0.72 L0.72,7.7 L5.7,7.7"/><path transform="translate(7.80,0)" d="M4.3,10.5 L4.3,0.72 L0.72,7.7 L5.7,7.7"/><path transform="translate(15.60,0)" d="M5.1,0.72 L1.35,0.72 L0.95,5.1 C1.5,4.4 2.2,4.05 3.05,4.05 C4.4,4.05 5.28,5.2 5.28,7.1 C5.28,9.1 4.4,10.28 3,10.28 C1.75,10.28 0.95,9.5 0.72,8.2"/></g>
<g transform="translate(314.1,710)" class="g"><path transform="translate(0.00,0)" d="M5.05,2.6 C4.8,1.4 4.1,0.72 3.1,0.72 C1.5,0.72 0.72,2.6 0.72,5.7 C0.72,8.8 1.6,10.28 3.05,10.28 C4.45,10.28 5.28,9.1 5.28,7.25 C5.28,5.4 4.45,4.3 3.1,4.3 C1.9,4.3 1.05,5.1 0.75,6.3"/><path transform="translate(7.80,0)" d="M1.2,2.9 C2.4,2.5 3.2,1.7 3.5,0.72 L3.5,10.28"/><path transform="translate(15.60,0)" d="M5.1,0.72 L1.35,0.72 L0.95,5.1 C1.5,4.4 2.2,4.05 3.05,4.05 C4.4,4.05 5.28,5.2 5.28,7.1 C5.28,9.1 4.4,10.28 3,10.28 C1.75,10.28 0.95,9.5 0.72,8.2"/></g>
</svg></body></html>
